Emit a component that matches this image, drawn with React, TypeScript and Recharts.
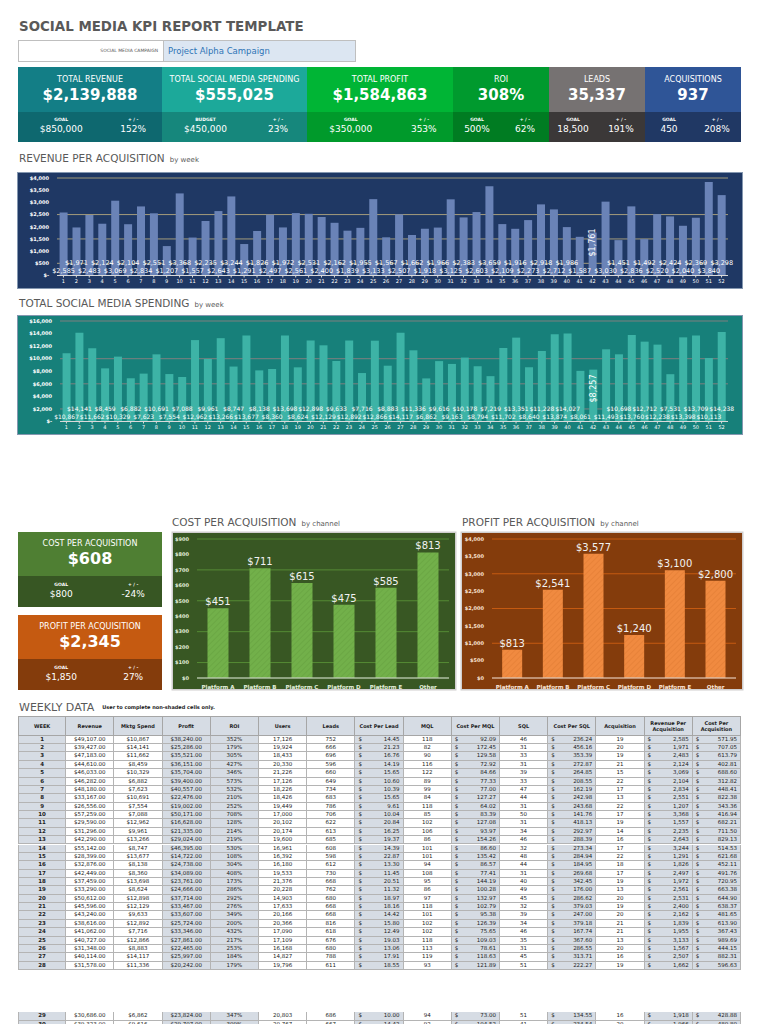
import React from "react";
import { BarChart, Bar, XAxis, YAxis, CartesianGrid, LabelList } from "recharts";

const FONT = "'DejaVu Sans', Verdana, sans-serif";

// KPI tiles
const kpiLabels = ["TOTAL REVENUE", "TOTAL SOCIAL MEDIA SPENDING", "TOTAL PROFIT", "ROI", "LEADS", "ACQUISITIONS"];
const kpiValues = ["$2,139,888", "$555,025", "$1,584,863", "308%", "35,337", "937"];
const kpiGoalLabels = ["GOAL", "BUDGET", "GOAL", "GOAL", "GOAL", "GOAL"];
const kpiGoals = ["$850,000", "$450,000", "$350,000", "500%", "18,500", "450"];
const kpiDeltas = ["152%", "23%", "353%", "62%", "191%", "208%"];

// weekly charts
const weekLabels = [
  1, 2, 3, 4, 5, 6, 7, 8, 9, 10, 11, 12, 13, 14, 15, 16, 17, 18, 19, 20, 21, 22, 23, 24, 25, 26,
  27, 28, 29, 30, 31, 32, 33, 34, 35, 36, 37, 38, 39, 40, 41, 42, 43, 44, 45, 46, 47, 48, 49, 50, 51, 52,
];
const revenuePerAcq = [
  2585, 1971, 2483, 2124, 3069, 2104, 2834, 2551, 1207, 3368, 1557, 2235, 2643, 3244, 1291, 1826, 2497, 1972,
  2561, 2531, 2400, 2162, 1839, 1955, 3133, 1567, 2507, 1662, 1918, 1966, 3125, 2383, 2603, 3659, 2109, 1916,
  2273, 2918, 2712, 1986, 1587, 1761, 3030, 1451, 2836, 1492, 2520, 2424, 2040, 2369, 3840, 3298,
];
const weeklySpend = [
  10867, 14141, 11662, 8459, 10329, 6882, 7623, 10691, 7554, 7088, 12962, 9961, 13266, 8747, 13677, 8138, 8360,
  13698, 8624, 12898, 12129, 9633, 12892, 7716, 12866, 8883, 14117, 11336, 6862, 9616, 9163, 10178, 8794, 7219,
  11702, 13351, 8640, 11228, 13874, 14027, 8061, 8257, 11493, 10698, 13760, 12712, 12238, 7531, 13398, 13709,
  10113, 14238,
];

// per channel
const channels = ["Platform A", "Platform B", "Platform C", "Platform D", "Platform E", "Other"];
const costPerAcqByChannel = [451, 711, 615, 475, 585, 813];
const profitPerAcqByChannel = [813, 2541, 3577, 1240, 3100, 2800];

// weekly data table (rows shown: weeks 1-30)
const weeklyRevenue = [
  49107, 39427, 47183, 44610, 46033, 46282, 48180, 33167, 26556, 57259, 29590, 31296, 42290, 55142, 28399,
  32876, 42449, 37459, 33290, 50612, 45596, 43240, 38616, 41062, 40727, 31348, 40114, 31578, 30686, 39323,
];
const weeklyUsers = [
  17126, 19924, 18433, 20330, 21226, 17126, 18226, 18426, 19449, 17000, 20102, 20174, 19600, 16961, 16392,
  16180, 19533, 21376, 20228, 14903, 17633, 20166, 20366, 17090, 17109, 16168, 14827, 19796, 20803, 20767,
];
const weeklyLeads = [
  752, 666, 696, 596, 660, 649, 734, 683, 786, 706, 622, 613, 685, 608, 598, 612, 730, 668, 762, 680, 668, 668,
  816, 618, 676, 680, 788, 611, 686, 667,
];
const weeklyMql = [
  118, 82, 90, 116, 122, 89, 99, 84, 118, 85, 102, 106, 86, 101, 101, 94, 108, 95, 86, 97, 118, 101, 102, 102,
  118, 113, 119, 93, 94, 92,
];
const weeklySql = [
  46, 31, 33, 31, 39, 33, 47, 44, 31, 50, 31, 34, 46, 32, 48, 44, 31, 40, 49, 45, 32, 39, 34, 46, 35, 31, 45, 51,
  51, 41,
];
const weeklyAcq = [
  19, 20, 19, 21, 15, 22, 17, 13, 22, 17, 19, 14, 16, 17, 22, 18, 17, 19, 13, 20, 19, 20, 21, 21, 13, 20, 16, 19,
  16, 20,
];
const tableHeaders = [
  "WEEK", "Revenue", "Mktg Spend", "Profit", "ROI", "Users", "Leads", "Cost Per Lead", "MQL", "Cost Per MQL",
  "SQL", "Cost Per SQL", "Acquisition", "Revenue Per Acquisition", "Cost Per Acquisition",
];

const revData = weekLabels.map((w, i) => ({ week: w, value: revenuePerAcq[i] }));
const spendData = weekLabels.map((w, i) => ({ week: w, value: weeklySpend[i] }));
const costData = channels.map((c, i) => ({ channel: c, value: costPerAcqByChannel[i] }));
const profitData = channels.map((c, i) => ({ channel: c, value: profitPerAcqByChannel[i] }));

const n0 = (v: number) => v.toLocaleString("en-US", { maximumFractionDigits: 0 });
const n2 = (v: number) => v.toLocaleString("en-US", { minimumFractionDigits: 2, maximumFractionDigits: 2 });
const dollarTick = (v: number) => (v === 0 ? "$-" : "$" + n0(v));

const TILE_X = [18, 162, 307, 453, 549, 645, 741];
const TILE_TOP = ["#137e86", "#1ca99a", "#00b535", "#009a2e", "#767272", "#2f5597"];
const TILE_BOTTOM = ["#0e686f", "#16877c", "#009a2b", "#007c22", "#3b3838", "#203864"];

function KpiTile({ i }: { i: number }) {
  const left = TILE_X[i];
  const width = TILE_X[i + 1] - left;
  const split = width > 120 ? 0.6 : 0.5;
  return (
    <div style={{ position: "absolute", left, top: 67, width, height: 75, color: "#fff", textAlign: "center" }}>
      <div style={{ height: 45, background: TILE_TOP[i] }}>
        <div style={{ fontSize: 8, paddingTop: 8, lineHeight: "9px" }}>{kpiLabels[i]}</div>
        <div style={{ fontSize: 15, fontWeight: "bold", lineHeight: "20px", marginTop: 1 }}>{kpiValues[i]}</div>
      </div>
      <div style={{ height: 30, background: TILE_BOTTOM[i], display: "flex" }}>
        <div style={{ width: `${split * 100}%` }}>
          <div style={{ fontSize: 4.5, fontWeight: "bold", paddingTop: 5, lineHeight: "6px" }}>{kpiGoalLabels[i]}</div>
          <div style={{ fontSize: 9, lineHeight: "13px" }}>{kpiGoals[i]}</div>
        </div>
        <div style={{ width: `${(1 - split) * 100}%` }}>
          <div style={{ fontSize: 4.5, fontWeight: "bold", paddingTop: 5, lineHeight: "6px" }}>+ / -</div>
          <div style={{ fontSize: 9, lineHeight: "13px" }}>{kpiDeltas[i]}</div>
        </div>
      </div>
    </div>
  );
}

function SmallTile(props: {
  top: number; label: string; value: string; goal: string; delta: string; c1: string; c2: string;
}) {
  return (
    <div style={{ position: "absolute", left: 18, top: props.top, width: 144, height: 75, color: "#fff", textAlign: "center" }}>
      <div style={{ height: 44, background: props.c1 }}>
        <div style={{ fontSize: 8, paddingTop: 7, lineHeight: "9px" }}>{props.label}</div>
        <div style={{ fontSize: 16, fontWeight: "bold", lineHeight: "22px" }}>{props.value}</div>
      </div>
      <div style={{ height: 31, background: props.c2, display: "flex" }}>
        <div style={{ width: "60%" }}>
          <div style={{ fontSize: 4.5, fontWeight: "bold", paddingTop: 6, lineHeight: "6px" }}>GOAL</div>
          <div style={{ fontSize: 9, lineHeight: "13px" }}>{props.goal}</div>
        </div>
        <div style={{ width: "40%" }}>
          <div style={{ fontSize: 4.5, fontWeight: "bold", paddingTop: 6, lineHeight: "6px" }}>+ / -</div>
          <div style={{ fontSize: 9, lineHeight: "13px" }}>{props.delta}</div>
        </div>
      </div>
    </div>
  );
}

function SectionTitle({ x, y, big, small }: { x: number; y: number; big: string; small: string }) {
  return (
    <div style={{ position: "absolute", left: x, top: y, color: "#595959", whiteSpace: "nowrap" }}>
      <span style={{ fontSize: 10.5 }}>{big}</span> <span style={{ fontSize: 7 }}>{small}</span>
    </div>
  );
}

// labels sit at the foot of each bar; alternate two rows so neighbours do not collide
const weekBarLabel = (rotateIndex: number, size: number) => (p: any) => {
  const cx = p.x + p.width / 2;
  const base = p.y + p.height;
  const txt = "$" + n0(p.value);
  if (p.index === rotateIndex) {
    const by = base - 19;
    return (
      <text x={cx} y={by} transform={`rotate(-90 ${cx} ${by})`} fill="#fff" fontSize={8} dominantBaseline="central">
        {txt}
      </text>
    );
  }
  const y = p.index % 2 === 0 ? base - 3 : base - 10.5;
  return (
    <text x={cx} y={y} fill="#fff" fontSize={size} textAnchor="middle">
      {txt}
    </text>
  );
};

function WeeklyChart(props: {
  top: number; height: number; data: any[]; bg: string; bar: string; grid: string; max: number; step: number;
  yWidth: number; labelIndex: number; labelSize: number;
}) {
  const ticks: number[] = [];
  for (let v = 0; v <= props.max; v += props.step) ticks.push(v);
  return (
    <div style={{ position: "absolute", left: 18, top: props.top, width: 724, height: props.height, background: props.bg, boxShadow: "0 0 0 1px #8497b0" }}>
      <BarChart width={724} height={props.height} data={props.data} margin={{ top: 5, right: 14, bottom: 0.5, left: 0 }} barCategoryGap="20%">
        <CartesianGrid vertical={false} stroke={props.grid} strokeWidth={1} />
        <XAxis dataKey="week" height={12} interval={0} tick={{ fontSize: 5, fill: "#ffffff" }} tickSize={2} stroke="#d9d9d9" />
        <YAxis width={props.yWidth} domain={[0, props.max]} ticks={ticks} tickFormatter={dollarTick} axisLine={false} tickLine={false} tick={{ fontSize: 5, fill: "#ffffff", fontWeight: "bold" }} />
        <Bar dataKey="value" fill={props.bar} isAnimationActive={false}>
          <LabelList dataKey="value" content={weekBarLabel(props.labelIndex, props.labelSize)} />
        </Bar>
      </BarChart>
    </div>
  );
}

function ChannelChart(props: {
  left: number; width: number; data: any[]; bg: string; grid: string; bar: string; stripe: string; max: number;
  step: number; yWidth: number; id: string; tickColor: string;
}) {
  const ticks: number[] = [];
  for (let v = 0; v <= props.max; v += props.step) ticks.push(v);
  return (
    <div style={{ position: "absolute", left: props.left, top: 533, width: props.width, height: 156, background: props.bg, boxShadow: "0 0 0 1.5px #d0cece" }}>
      <BarChart width={props.width} height={156} data={props.data} margin={{ top: 6, right: 6, bottom: 0, left: 0 }} barCategoryGap="25%">
        <defs>
          <pattern id={props.id} patternUnits="userSpaceOnUse" width="4" height="4" patternTransform="rotate(45)">
            <rect width="4" height="4" fill={props.bar} />
            <line x1="0" y1="0" x2="0" y2="4" stroke={props.stripe} strokeWidth="1.2" />
          </pattern>
        </defs>
        <CartesianGrid vertical={false} stroke={props.grid} strokeWidth={1} />
        <XAxis dataKey="channel" height={11} interval={0} tickLine={false} stroke="#d9d9d9" tick={{ fontSize: 5.5, fill: props.tickColor, fontWeight: "bold" }} tickMargin={1} />
        <YAxis width={props.yWidth} domain={[0, props.max]} ticks={ticks} tickFormatter={(v: number) => "$" + n0(v)} axisLine={false} tickLine={false} tick={{ fontSize: 5, fill: props.tickColor, fontWeight: "bold" }} />
        <Bar dataKey="value" fill={`url(#${props.id})`} isAnimationActive={false}>
          <LabelList dataKey="value" position="top" offset={3} formatter={(v: any) => "$" + n0(Number(v))} style={{ fontSize: 10, fill: "#f2f2f2" }} />
        </Bar>
      </BarChart>
    </div>
  );
}

const COL_W = 48.2;
const ROW_H = 8.37;
const SHADED = [0, 3, 4, 7, 9, 11, 13, 14];
const ACCOUNTING = [7, 9, 11, 13, 14];

function rowCells(r: number): string[] {
  const rev = weeklyRevenue[r];
  const sp = weeklySpend[r];
  const profit = rev - sp;
  return [
    String(weekLabels[r]),
    "$" + n2(rev),
    "$" + n0(sp),
    "$" + n2(profit),
    Math.round((profit / sp) * 100) + "%",
    n0(weeklyUsers[r]),
    String(weeklyLeads[r]),
    n2(sp / weeklyLeads[r]),
    String(weeklyMql[r]),
    n2(sp / weeklyMql[r]),
    String(weeklySql[r]),
    n2(sp / weeklySql[r]),
    String(weeklyAcq[r]),
    n0(revenuePerAcq[r]),
    n2(sp / weeklyAcq[r]),
  ];
}

function TableRow({ r, top }: { r: number; top: number }) {
  const cells = rowCells(r);
  return (
    <>
      {cells.map((c, ci) => (
        <div
          key={ci}
          style={{
            position: "absolute", left: 18 + ci * COL_W, top, width: COL_W, height: ROW_H, boxSizing: "border-box",
            background: SHADED.includes(ci) ? "#d6dce4" : "#ffffff", borderRight: "1px solid #b4b4b4",
            borderBottom: "1px solid #b4b4b4", borderLeft: ci === 0 ? "1px solid #b4b4b4" : undefined,
            fontSize: 5.5, lineHeight: `${ROW_H - 1}px`, color: "#222", fontWeight: ci === 0 ? "bold" : "normal",
            textAlign: "center", display: ACCOUNTING.includes(ci) ? "flex" : "block",
            justifyContent: "space-between", padding: ACCOUNTING.includes(ci) ? "0 3px" : 0, whiteSpace: "nowrap",
          }}
        >
          {ACCOUNTING.includes(ci) ? (
            <>
              <span>$</span>
              <span>{c}</span>
            </>
          ) : (
            c
          )}
        </div>
      ))}
    </>
  );
}

export default function App() {
  const firstBlock = weeklyRevenue.slice(0, 28);
  const secondBlock = weeklyRevenue.slice(28, 30);
  return (
    <div style={{ position: "absolute", left: 0, top: 0, width: 768, height: 1024, overflow: "hidden", background: "#fff", fontFamily: FONT }}>
      <div style={{ position: "absolute", left: 19, top: 19, fontSize: 13.4, fontWeight: "bold", color: "#595959", whiteSpace: "nowrap" }}>
        SOCIAL MEDIA KPI REPORT TEMPLATE
      </div>
      <div style={{ position: "absolute", left: 18, top: 40, width: 338, height: 22, boxSizing: "border-box", border: "1px solid #bfbfbf", display: "flex" }}>
        <div style={{ width: 144, fontSize: 4.5, color: "#595959", textAlign: "right", paddingRight: 5, lineHeight: "20px", boxSizing: "border-box" }}>
          SOCIAL MEDIA CAMPAIGN
        </div>
        <div style={{ flex: 1, background: "#dce6f2", borderLeft: "1px solid #bfbfbf", color: "#2e75b6", fontSize: 8.5, lineHeight: "20px", paddingLeft: 4 }}>
          Project Alpha Campaign
        </div>
      </div>

      {kpiLabels.map((_, i) => (
        <KpiTile key={i} i={i} />
      ))}

      <SectionTitle x={19} y={147} big="REVENUE PER ACQUISITION" small="by week" />
      <WeeklyChart top={172.7} height={115} data={revData} bg="#1f3864" bar="#6a83b7" grid="#a39b7b" max={4000} step={500} yWidth={39} labelIndex={41} labelSize={6.5} />

      <SectionTitle x={19} y={292} big="TOTAL SOCIAL MEDIA SPENDING" small="by week" />
      <WeeklyChart top={316.3} height={118} data={spendData} bg="#17807a" bar="#3db3a6" grid="#7f7f7f" max={16000} step={2000} yWidth={42} labelIndex={41} labelSize={6} />

      <SmallTile top={532} label="COST PER ACQUISITION" value="$608" goal="$800" delta="-24%" c1="#4f7f33" c2="#375623" />
      <SmallTile top={615} label="PROFIT PER ACQUISITION" value="$2,345" goal="$1,850" delta="27%" c1="#c55a11" c2="#843c0c" />

      <SectionTitle x={172} y={511} big="COST PER ACQUISITION" small="by channel" />
      <ChannelChart left={173} width={282} data={costData} bg="#385723" grid="#558b35" bar="#72b04a" stripe="#66a23f" max={900} step={100} yWidth={24} id="hatchGreen" tickColor="#e2efda" />

      <SectionTitle x={462} y={511} big="PROFIT PER ACQUISITION" small="by channel" />
      <ChannelChart left={462} width={280} data={profitData} bg="#843c0c" grid="#c55a11" bar="#f08a40" stripe="#e27c33" max={4000} step={500} yWidth={30} id="hatchOrange" tickColor="#fbe5d6" />

      <div style={{ position: "absolute", left: 19, top: 696, color: "#595959", whiteSpace: "nowrap" }}>
        <span style={{ fontSize: 11 }}>WEEKLY DATA</span>
        <span style={{ fontSize: 5, fontWeight: "bold", color: "#222", marginLeft: 8, verticalAlign: "middle" }}>
          User to complete non-shaded cells only.
        </span>
      </div>

      {tableHeaders.map((h, ci) => (
        <div
          key={h}
          style={{
            position: "absolute", left: 18 + ci * COL_W, top: 715.7, width: COL_W, height: 20, boxSizing: "border-box",
            background: "#d6dce4", border: "1px solid #a6a6a6", borderLeftWidth: ci === 0 ? 1 : 0, fontSize: 5,
            fontWeight: "bold", color: "#222", display: "flex", alignItems: "center", justifyContent: "center",
            textAlign: "center", lineHeight: "6px", padding: "0 4px",
          }}
        >
          {h}
        </div>
      ))}
      {firstBlock.map((_, r) => (
        <TableRow key={r} r={r} top={735.7 + r * ROW_H} />
      ))}
      {secondBlock.map((_, k) => (
        <TableRow key={k + 28} r={k + 28} top={1012.3 + k * ROW_H} />
      ))}
    </div>
  );
}
